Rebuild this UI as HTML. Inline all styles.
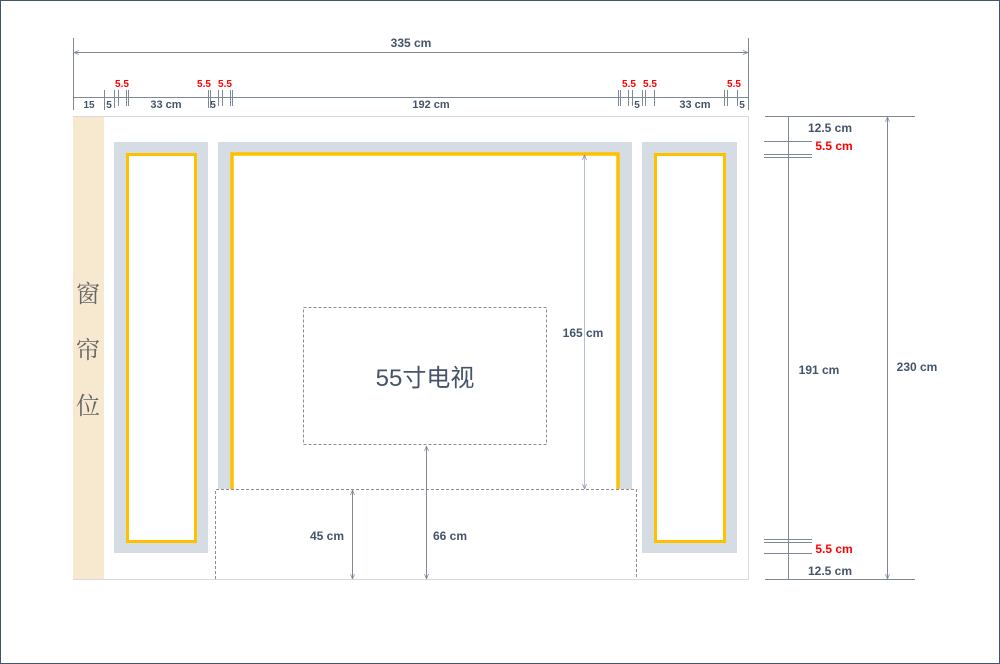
<!DOCTYPE html>
<html><head><meta charset="utf-8"><style>
html,body{margin:0;padding:0;background:#fff}
svg{display:block}
text{font-family:"Liberation Sans","Noto Sans CJK SC",sans-serif;font-weight:bold;fill:#44546a}
.r{fill:#f00}
</style></head><body>
<svg width="1000" height="664" viewBox="0 0 1000 664" xmlns="http://www.w3.org/2000/svg">
<defs>
<marker id="a" viewBox="0 0 10 10" refX="10" refY="5" markerWidth="5" markerHeight="5" orient="auto-start-reverse"><path d="M0,1 L10,5 L0,9" fill="none" stroke="#7f8896" stroke-width="1.5"/></marker>
</defs>
<rect x="0.5" y="0.5" width="999" height="663" fill="#fff" stroke="#44546a"/>
<rect x="73.5" y="116.5" width="675" height="463" fill="#fff" stroke="#d9d9d9"/>
<rect x="73" y="117" width="31" height="462" fill="#f7e9cf"/>
<text x="88" y="302" font-size="24" text-anchor="middle" style="font-weight:normal;fill:#666;font-family:'Noto Serif CJK SC',serif">窗</text>
<text x="88" y="358" font-size="24" text-anchor="middle" style="font-weight:normal;fill:#666;font-family:'Noto Serif CJK SC',serif">帘</text>
<text x="88" y="414" font-size="24" text-anchor="middle" style="font-weight:normal;fill:#666;font-family:'Noto Serif CJK SC',serif">位</text>
<rect x="114" y="142" width="94" height="411" fill="#d6dce4"/>
<rect x="127.5" y="154.5" width="68" height="387" fill="#fff" stroke="#ffc000" stroke-width="3"/>
<rect x="642" y="142" width="95" height="411" fill="#d6dce4"/>
<rect x="655.5" y="154.5" width="69" height="387" fill="#fff" stroke="#ffc000" stroke-width="3"/>
<rect x="218" y="142" width="414" height="348" fill="#d6dce4"/>
<rect x="232" y="154" width="386" height="340" fill="#fff" stroke="#ffc000" stroke-width="3.5"/>
<rect x="215" y="489" width="422" height="90" fill="#fff"/>
<path d="M215.5 579V489.5H636.5V579" fill="none" stroke="#8c8c8c" stroke-dasharray="3,2"/>
<line x1="73" y1="579.5" x2="749" y2="579.5" stroke="#d9d9d9"/>
<rect x="303.5" y="307.5" width="243" height="137" fill="#fff" stroke="#8c8c8c" stroke-dasharray="3,2"/>
<text x="425" y="386" font-size="24" text-anchor="middle" style="font-weight:normal">55寸电视</text>
<line x1="584.5" y1="155" x2="584.5" y2="489" stroke="#b4c0d8" marker-start="url(#a)" marker-end="url(#a)"/>
<text x="583" y="337" font-size="12" text-anchor="middle">165 cm</text>
<line x1="352.5" y1="490" x2="352.5" y2="579" stroke="#7f8896" marker-start="url(#a)" marker-end="url(#a)"/>
<text x="327" y="540" font-size="12" text-anchor="middle">45 cm</text>
<line x1="426.5" y1="446" x2="426.5" y2="579" stroke="#7f8896" marker-start="url(#a)" marker-end="url(#a)"/>
<text x="450" y="540" font-size="12" text-anchor="middle">66 cm</text>
<g stroke="#7f8896" fill="none">
<line x1="73.5" y1="38" x2="73.5" y2="110"/>
<line x1="748.5" y1="38" x2="748.5" y2="110"/>
<line x1="74" y1="52.5" x2="748" y2="52.5" marker-start="url(#a)" marker-end="url(#a)"/>
<line x1="74" y1="97.5" x2="748" y2="97.5"/>
<path d="M104.5 90V110M114.5 90V108M118.5 90V106M126.5 90V106M128.5 90V106M208.5 90V108M210.5 90V108M218.5 90V106M222.5 90V106M230.5 90V106M232.5 90V106M618.5 90V106M620.5 90V106M628.5 90V106M632.5 90V106M642.5 90V106M645.5 90V106M654.5 90V106M724.5 90V106M727.5 90V106M737.5 90V106"/>
</g>
<text x="411" y="47" font-size="12" text-anchor="middle">335 cm</text>
<g>
<text x="89" y="108" text-anchor="middle" font-size="10">15</text>
<text x="109" y="108" text-anchor="middle" font-size="10">5</text>
<text x="166" y="108" text-anchor="middle" font-size="11">33 cm</text>
<text x="213" y="108" text-anchor="middle" font-size="10">5</text>
<text x="431" y="108" text-anchor="middle" font-size="11">192 cm</text>
<text x="637" y="108" text-anchor="middle" font-size="10">5</text>
<text x="695" y="108" text-anchor="middle" font-size="11">33 cm</text>
<text x="742" y="108" text-anchor="middle" font-size="10">5</text>
<text class="r" x="122" y="87" text-anchor="middle" font-size="10">5.5</text>
<text class="r" x="204" y="87" text-anchor="middle" font-size="10">5.5</text>
<text class="r" x="225" y="87" text-anchor="middle" font-size="10">5.5</text>
<text class="r" x="629" y="87" text-anchor="middle" font-size="10">5.5</text>
<text class="r" x="650" y="87" text-anchor="middle" font-size="10">5.5</text>
<text class="r" x="734" y="87" text-anchor="middle" font-size="10">5.5</text>
</g>
<g stroke="#7f8896" fill="none">
<line x1="765" y1="116.5" x2="915" y2="116.5"/>
<line x1="765" y1="579.5" x2="915" y2="579.5"/>
<line x1="764" y1="141.5" x2="812" y2="141.5"/>
<line x1="764" y1="154.5" x2="812" y2="154.5"/>
<line x1="764" y1="157.5" x2="812" y2="157.5"/>
<line x1="764" y1="539.5" x2="812" y2="539.5"/>
<line x1="764" y1="542.5" x2="812" y2="542.5"/>
<line x1="764" y1="553.5" x2="812" y2="553.5"/>
<line x1="788.5" y1="117" x2="788.5" y2="579"/>
<line x1="887.5" y1="117" x2="887.5" y2="579" marker-start="url(#a)" marker-end="url(#a)"/>
</g>
<text x="830" y="132" font-size="12" text-anchor="middle">12.5 cm</text>
<text class="r" x="834" y="150" font-size="12" text-anchor="middle">5.5 cm</text>
<text x="819" y="374" font-size="12" text-anchor="middle">191 cm</text>
<text x="917" y="371" font-size="12" text-anchor="middle">230 cm</text>
<text class="r" x="834" y="553" font-size="12" text-anchor="middle">5.5 cm</text>
<text x="830" y="575" font-size="12" text-anchor="middle">12.5 cm</text>
</svg>
</body></html>
